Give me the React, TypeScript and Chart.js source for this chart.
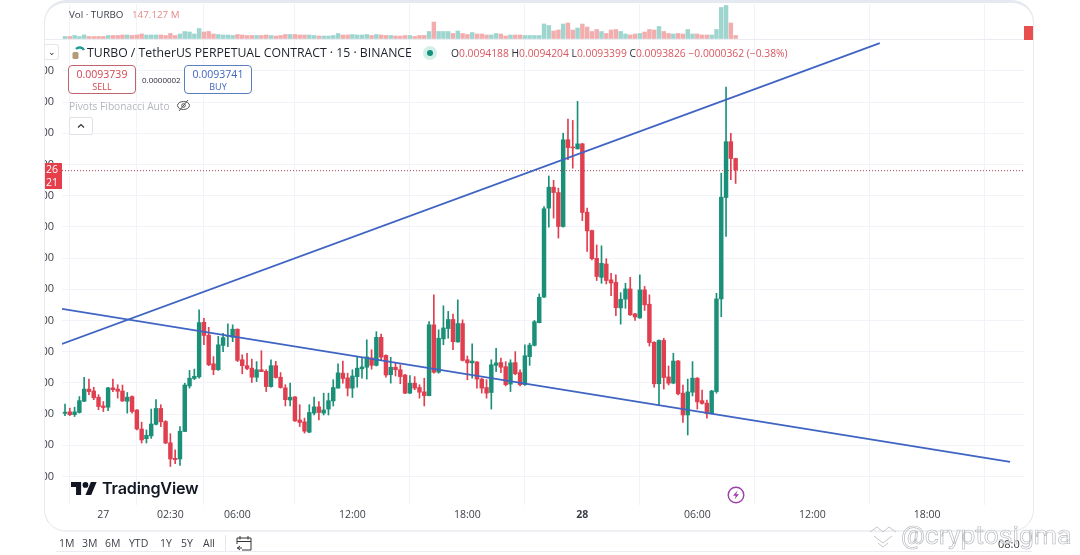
import React, { useEffect, useRef } from "react";
import { Chart, registerables } from "chart.js";

Chart.register(...registerables);

// Prices are in millionths (8602 = 0.008602)
const opens = [
  8602, 8607, 8598, 8605, 8641, 8680, 8674, 8654, 8626, 8622,
  8684, 8680, 8674, 8641, 8656, 8613, 8552, 8521, 8530, 8567,
  8618, 8576, 8508, 8458, 8456, 8544, 8690, 8714, 8719, 8894,
  8853, 8761, 8742, 8820, 8849, 8846, 8872, 8774, 8755, 8747,
  8718, 8742, 8737, 8688, 8755, 8718, 8684, 8645, 8655, 8581,
  8575, 8542, 8603, 8623, 8603, 8616, 8642, 8683, 8731, 8716,
  8683, 8720, 8745, 8750, 8780, 8756, 8846, 8788, 8726, 8750,
  8742, 8725, 8667, 8699, 8685, 8671, 8659, 8886, 8734, 8841,
  8874, 8903, 8831, 8890, 8774, 8764, 8767, 8712, 8685, 8669,
  8756, 8765, 8752, 8696, 8765, 8733, 8694, 8784, 8820, 8893,
  8975, 9260, 9327, 9310, 9201, 9479, 9456, 9450, 9466, 9247,
  9188, 9099, 9038, 9081, 9030, 9022, 8940, 8968, 9001, 8921,
  8908, 8998, 8952, 8830, 8697, 8836, 8719, 8699, 8770, 8667,
  8597, 8670, 8715, 8643, 8635, 8601, 8672, 8969, 9294, 9473,
  9419,
];
const highs = [
  8632, 8619, 8622, 8656, 8718, 8712, 8686, 8662, 8640, 8686,
  8712, 8694, 8693, 8669, 8658, 8614, 8574, 8549, 8616, 8646,
  8630, 8579, 8537, 8485, 8560, 8699, 8740, 8744, 8934, 8907,
  8878, 8784, 8849, 8859, 8889, 8886, 8873, 8790, 8795, 8776,
  8768, 8803, 8742, 8774, 8769, 8733, 8694, 8699, 8656, 8630,
  8587, 8630, 8654, 8640, 8667, 8667, 8710, 8761, 8770, 8731,
  8742, 8782, 8782, 8838, 8806, 8864, 8856, 8790, 8782, 8763,
  8758, 8727, 8723, 8720, 8694, 8715, 8896, 8982, 8870, 8947,
  8929, 8920, 8966, 8902, 8786, 8825, 8768, 8715, 8710, 8774,
  8811, 8779, 8768, 8774, 8800, 8742, 8822, 8827, 8900, 8985,
  9265, 9363, 9349, 9324, 9500, 9545, 9541, 9602, 9468, 9260,
  9190, 9142, 9139, 9098, 9051, 9046, 8989, 9019, 9038, 8923,
  9046, 9009, 8982, 8832, 8838, 8843, 8754, 8795, 8772, 8693,
  8712, 8768, 8717, 8677, 8645, 8676, 8987, 9372, 9648, 9500,
  9420,
];
const lows = [
  8595, 8595, 8592, 8603, 8640, 8662, 8646, 8614, 8608, 8611,
  8672, 8651, 8640, 8603, 8603, 8549, 8507, 8507, 8522, 8565,
  8560, 8505, 8432, 8441, 8435, 8544, 8683, 8710, 8715, 8822,
  8755, 8726, 8740, 8800, 8816, 8832, 8768, 8729, 8742, 8701,
  8704, 8736, 8672, 8686, 8715, 8683, 8626, 8626, 8576, 8560,
  8539, 8540, 8597, 8581, 8597, 8597, 8626, 8683, 8699, 8658,
  8653, 8686, 8715, 8712, 8744, 8754, 8774, 8718, 8699, 8722,
  8697, 8665, 8665, 8678, 8651, 8626, 8658, 8731, 8731, 8822,
  8843, 8806, 8830, 8770, 8710, 8715, 8683, 8667, 8651, 8616,
  8736, 8733, 8690, 8672, 8726, 8690, 8692, 8756, 8818, 8892,
  8973, 9199, 9228, 9164, 9199, 9415, 9388, 9449, 9220, 9121,
  9094, 9028, 9019, 9017, 8979, 8915, 8888, 8939, 8916, 8900,
  8907, 8932, 8818, 8686, 8629, 8680, 8693, 8697, 8661, 8573,
  8533, 8658, 8616, 8632, 8587, 8600, 8667, 8912, 9169, 9351,
  9339,
];
const closes = [
  8606, 8598, 8607, 8643, 8680, 8672, 8652, 8624, 8621, 8684,
  8678, 8673, 8642, 8654, 8608, 8552, 8517, 8532, 8568, 8618,
  8575, 8507, 8456, 8454, 8545, 8693, 8715, 8721, 8893, 8852,
  8758, 8742, 8822, 8845, 8852, 8872, 8772, 8755, 8746, 8718,
  8742, 8736, 8688, 8755, 8717, 8685, 8646, 8654, 8578, 8573,
  8545, 8605, 8623, 8605, 8613, 8643, 8685, 8732, 8714, 8683,
  8722, 8747, 8751, 8783, 8756, 8846, 8782, 8725, 8750, 8742,
  8720, 8667, 8699, 8683, 8670, 8659, 8886, 8734, 8843, 8876,
  8903, 8832, 8890, 8772, 8764, 8770, 8712, 8683, 8667, 8758,
  8764, 8750, 8694, 8764, 8729, 8694, 8787, 8821, 8896, 8974,
  9258, 9327, 9310, 9201, 9479, 9454, 9453, 9466, 9246, 9187,
  9098, 9041, 9083, 9028, 9020, 8941, 8968, 9001, 8918, 8911,
  8998, 8950, 8829, 8697, 8836, 8717, 8699, 8770, 8665, 8597,
  8671, 8715, 8639, 8634, 8601, 8674, 8969, 9295, 9473, 9419,
  9383,
];
// Volume in millions
const volumes = [
  98, 98, 147, 98, 172, 98, 98, 98, 98, 147,
  147, 147, 172, 172, 147, 172, 220, 172, 172, 172,
  172, 147, 245, 147, 220, 343, 318, 220, 490, 318,
  343, 220, 196, 172, 172, 147, 196, 172, 147, 147,
  147, 147, 172, 147, 122, 147, 196, 196, 196, 172,
  172, 172, 147, 122, 122, 122, 147, 245, 172, 172,
  196, 172, 172, 196, 147, 196, 172, 147, 147, 122,
  122, 147, 147, 98, 147, 147, 343, 808, 343, 343,
  343, 245, 368, 245, 196, 294, 220, 220, 172, 172,
  245, 220, 122, 172, 172, 172, 147, 147, 147, 147,
  710, 637, 368, 416, 710, 760, 416, 514, 710, 563,
  343, 441, 343, 245, 416, 441, 343, 220, 172, 220,
  245, 318, 441, 416, 588, 343, 245, 220, 245, 220,
  441, 220, 220, 172, 172, 172, 441, 1519, 1617, 760,
  147.127,
];
const xTickIndex = [8, 22, 36, 60, 84, 108, 132, 156, 180];
const xTickLabels = ["27", "02:30", "06:00", "12:00", "18:00", "28", "06:00", "12:00", "18:00"];
const priceTicks = [8400, 8500, 8600, 8700, 8800, 8900, 9000, 9100, 9200, 9300, 9400, 9500, 9600, 9700];
const upperTrendX = [-0.63, 170.1];
const upperTrendY = [8825, 9789];
const lowerTrendX = [-0.63, 197.3];
const lowerTrendY = [8937, 8447];
const lastPrice = 9380;

const UP = "#1b9079";
const DOWN = "#e03f50";
const UP_VOL = "#9ed5cf";
const DOWN_VOL = "#f2aeae";
const GRID = "#f1f3f8";
const FONT = '"Open Sans", "Noto Sans", sans-serif';
const X_MIN = -0.626;
const X_MAX = 200.2;

const abs = (s: React.CSSProperties): React.CSSProperties => ({ position: "absolute", whiteSpace: "nowrap", ...s });

const noPadding = (s: any) => {
  s.paddingTop = 0;
  s.paddingBottom = 0;
  s.paddingLeft = 0;
  s.paddingRight = 0;
};

export default function App() {
  const ref = useRef<HTMLCanvasElement>(null);
  useEffect(() => {
    const up = opens.map((o, i) => closes[i] >= o);
    const chart = new Chart(ref.current!, {
      type: "bar",
      data: {
        datasets: [
          {
            type: "line",
            data: upperTrendX.map((x, i) => ({ x, y: upperTrendY[i] })),
            borderColor: "#3f64c2",
            borderWidth: 1.8,
            pointRadius: 0,
            yAxisID: "y",
            order: 0,
          },
          {
            type: "line",
            data: lowerTrendX.map((x, i) => ({ x, y: lowerTrendY[i] })),
            borderColor: "#3f64c2",
            borderWidth: 1.8,
            pointRadius: 0,
            yAxisID: "y",
            order: 0,
          },
          {
            type: "line",
            data: [{ x: X_MIN, y: lastPrice }, { x: X_MAX, y: lastPrice }],
            borderColor: "#a8404e",
            borderWidth: 1,
            borderDash: [1, 2],
            pointRadius: 0,
            yAxisID: "y",
            order: 1,
          },
          {
            type: "bar",
            data: opens.map((o, i) => ({ x: i, y: [o, closes[i]] })),
            backgroundColor: up.map((u) => (u ? UP : DOWN)),
            barThickness: 3.8,
            grouped: false,
            yAxisID: "y",
            order: 2,
          },
          {
            type: "bar",
            data: opens.map((_, i) => ({ x: i, y: [lows[i], highs[i]] })),
            backgroundColor: up.map((u) => (u ? UP : DOWN)),
            barThickness: 1,
            grouped: false,
            yAxisID: "y",
            order: 3,
          },
          {
            type: "bar",
            data: volumes.map((v, i) => ({ x: i, y: v })),
            backgroundColor: up.map((u) => (u ? UP_VOL : DOWN_VOL)),
            barThickness: 3.8,
            grouped: false,
            yAxisID: "yVol",
            order: 4,
          },
        ],
      } as any,
      options: {
        animation: false,
        responsive: false,
        devicePixelRatio: 1,
        layout: { autoPadding: false, padding: { left: 45, right: 56, top: 4, bottom: 25 } },
        plugins: { legend: { display: false }, tooltip: { enabled: false } },
        scales: {
          x: {
            type: "linear",
            offset: false,
            min: X_MIN,
            max: X_MAX,
            afterBuildTicks: (s: any) => {
              s.ticks = xTickIndex.map((value) => ({ value }));
            },
            afterFit: (s: any) => {
              s.height = 25;
              noPadding(s);
            },
            ticks: {
              autoSkip: false,
              maxRotation: 0,
              padding: 4,
              color: "#3c3f48",
              font: (c: any) => ({
                family: FONT,
                size: 10.5,
                weight: c.tick && c.tick.value === 108 ? "bold" : "normal",
              }),
              callback: (v: any) => xTickLabels[xTickIndex.indexOf(Number(v))] ?? "",
            },
            grid: { color: GRID, drawTicks: false, lineWidth: 1 },
            border: { display: false },
          },
          y: {
            position: "left",
            min: 8308.5,
            max: 9914.2,
            afterBuildTicks: (s: any) => {
              s.ticks = priceTicks.map((value) => ({ value }));
            },
            afterFit: (s: any) => {
              s.width = 17;
              noPadding(s);
            },
            ticks: {
              padding: 8,
              color: "#3c3f48",
              font: { family: FONT, size: 11 },
              callback: () => "00",
            },
            grid: { color: GRID, drawTicks: false },
            border: { display: false },
          },
          yVol: {
            display: false,
            min: -22858,
            max: 1690,
            afterFit: noPadding,
          },
        },
      } as any,
    });
    return () => chart.destroy();
  }, []);

  const red = "#d9565f";
  return (
    <div
      style={{
        position: "fixed",
        left: 0,
        top: 0,
        width: 1080,
        height: 555,
        overflow: "hidden",
        background: "#fff",
        fontFamily: FONT,
        filter: "blur(0.3px)",
      }}
    >
      <canvas ref={ref} width={1080} height={555} style={{ position: "absolute", left: 0, top: 0 }} />

      {/* card frame */}
      <div
        style={{
          position: "absolute",
          left: 44,
          top: 0,
          width: 988,
          height: 527,
          border: "1px solid #e6e9ee",
          borderTop: "3px solid #e6e9ef",
          borderBottom: "2px solid #eef0f3",
          borderRadius: 22,
          boxSizing: "content-box",
        }}
      />
      <div style={abs({ left: 45, top: 39, width: 980, height: 1, background: "#e9ecf1" })} />
      <div style={abs({ left: 56, top: 551, width: 976, height: 1, background: "#e9ecf1" })} />

      {/* volume legend */}
      <div style={abs({ left: 69, top: 8, fontSize: 9.8, color: "#3a3d46" })}>Vol · TURBO</div>
      <div style={abs({ left: 132, top: 8, fontSize: 9.8, color: "#e58a8a" })}>147.127 M</div>
      <div style={abs({ left: 1024, top: 26, width: 9, height: 14, background: "#e85050" })} />

      {/* title row */}
      <div style={abs({ left: 45, top: 44, width: 13, height: 14, border: "1px solid #e3e6ea", borderLeft: "none", borderRadius: "0 3px 3px 0", color: "#333", fontSize: 9, lineHeight: "13px", textAlign: "center" })}>⌄</div>
      <svg style={{ position: "absolute", left: 71, top: 44 }} width="15" height="16" viewBox="0 0 15 16">
        <path d="M5 5 A5 5 0 0 1 13 6" fill="none" stroke="#1f9c92" strokeWidth="2.4" />
        <rect x="1.5" y="8" width="6" height="7" rx="1.5" fill="#b59a78" />
      </svg>
      <div style={abs({ left: 87, top: 44, fontSize: 12.25, color: "#1d2029" })}>TURBO / TetherUS PERPETUAL CONTRACT · 15 · BINANCE</div>
      <div style={abs({ left: 423, top: 46, width: 14, height: 14, borderRadius: 7, background: "#d4efe9" })} />
      <div style={abs({ left: 427, top: 50, width: 6, height: 6, borderRadius: 3, background: "#12917c" })} />
      <div style={abs({ left: 451, top: 46, fontSize: 10.3, color: red })}>
        <span style={{ color: "#2a2e39" }}>O</span>0.0094188 <span style={{ color: "#2a2e39" }}>H</span>0.0094204{" "}
        <span style={{ color: "#2a2e39" }}>L</span>0.0093399 <span style={{ color: "#2a2e39" }}>C</span>0.0093826 −0.0000362 (−0.38%)
      </div>

      {/* sell / buy */}
      <div style={abs({ left: 68, top: 65, width: 66, height: 27, border: "1px solid #c1636c", borderRadius: 4, color: "#d3444f", textAlign: "center", background: "#fff" })}>
        <div style={{ fontSize: 10.5, lineHeight: "14px", marginTop: 1 }}>0.0093739</div>
        <div style={{ fontSize: 9, lineHeight: "11px" }}>SELL</div>
      </div>
      <div style={abs({ left: 142, top: 74, fontSize: 8, color: "#2a2e39" })}>0.0000002</div>
      <div style={abs({ left: 184, top: 65, width: 66, height: 27, border: "1px solid #5b7fbb", borderRadius: 4, color: "#3f64c2", textAlign: "center", background: "#fff" })}>
        <div style={{ fontSize: 10.5, lineHeight: "14px", marginTop: 1 }}>0.0093741</div>
        <div style={{ fontSize: 9, lineHeight: "11px" }}>BUY</div>
      </div>

      {/* indicator row */}
      <div style={abs({ left: 69, top: 99, fontSize: 10.2, color: "#b4b7bf" })}>Pivots Fibonacci Auto</div>
      <svg style={{ position: "absolute", left: 176, top: 99 }} width="15" height="13" viewBox="0 0 15 13">
        <ellipse cx="7.5" cy="6.5" rx="6" ry="4" fill="none" stroke="#555" strokeWidth="1" />
        <circle cx="7.5" cy="6.5" r="1.8" fill="none" stroke="#555" strokeWidth="1" />
        <line x1="3" y1="12" x2="12" y2="1" stroke="#555" strokeWidth="1" />
      </svg>
      <div style={abs({ left: 69, top: 117, width: 22, height: 16, border: "1px solid #dfe2e6", borderRadius: 2, background: "#fff" })}>
        <svg width="22" height="16" viewBox="0 0 22 16" style={{ display: "block" }}>
          <path d="M8 9.5 L11 6.5 L14 9.5" fill="none" stroke="#333" strokeWidth="1.2" />
        </svg>
      </div>

      {/* price tag */}
      <div style={abs({ left: 45, top: 163, width: 16, height: 26, background: "#e63f4c", color: "#fff", fontSize: 10.5, lineHeight: "12.5px", paddingLeft: 1 })}>
        26
        <br />
        21
      </div>

      {/* TradingView logo */}
      <svg style={{ position: "absolute", left: 71, top: 479 }} width="26" height="19" viewBox="0 0 36 26">
        <path d="M14 22H7V11H0V4h14v18zM28 22h-8l7.5-18h8L28 22z" fill="#131722" />
        <circle cx="20" cy="8" r="4" fill="#131722" />
      </svg>
      <div style={abs({ left: 102, top: 478, fontSize: 16.2, fontWeight: 600, color: "#131722", fontFamily: "Inter, sans-serif", letterSpacing: -0.2 })}>TradingView</div>

      {/* event marker */}
      <svg style={{ position: "absolute", left: 727, top: 486 }} width="18" height="18" viewBox="0 0 18 18">
        <circle cx="9" cy="9" r="7.8" fill="#fff" stroke="#9c3fa8" strokeWidth="1.4" />
        <path d="M10.5 4.5 L6 9.8 H8.8 L7.5 13.5 L12 8.2 H9.2 Z" fill="#9c3fa8" />
      </svg>

      {/* range bar */}
      {[["1M", 59], ["3M", 82], ["6M", 105], ["YTD", 129], ["1Y", 160], ["5Y", 181], ["All", 203]].map(([t, x]) => (
        <div key={t as string} style={abs({ left: x as number, top: 536, fontSize: 10.5, color: "#3c3f48" })}>{t}</div>
      ))}
      <div style={abs({ left: 225, top: 535, width: 1, height: 16, background: "#e3e6ea" })} />
      <svg style={{ position: "absolute", left: 236, top: 535 }} width="17" height="17" viewBox="0 0 17 17">
        <path d="M1 9 V3 H15 V15 H6 M1 6.5 H15 M4 1 V4.5 M12 1 V4.5 M1 13 H6 M4 11 L1.5 13 L4 15" fill="none" stroke="#333" strokeWidth="1" />
      </svg>
      <div style={abs({ left: 998, top: 536, fontSize: 11, color: "#333" })}>08:0</div>

      {/* watermark */}
      <svg style={{ position: "absolute", left: 869, top: 524 }} width="29" height="24" viewBox="0 0 29 24">
        <path d="M1 8 L8 3 L14 8 L20 3 L27 8 M5 12 L14 19 L23 12 M9 19 L14 23 L19 19" fill="none" stroke="#c4c6ca" strokeWidth="1" />
      </svg>
      <div
        style={abs({
          left: 901,
          top: 519,
          fontSize: 26.5,
          fontFamily: "Roboto, sans-serif",
          color: "rgba(255,255,255,0.6)",
          WebkitTextStroke: "0.7px #b9bbc0",
        } as any)}
      >
        @cryptosigma
      </div>
    </div>
  );
}
